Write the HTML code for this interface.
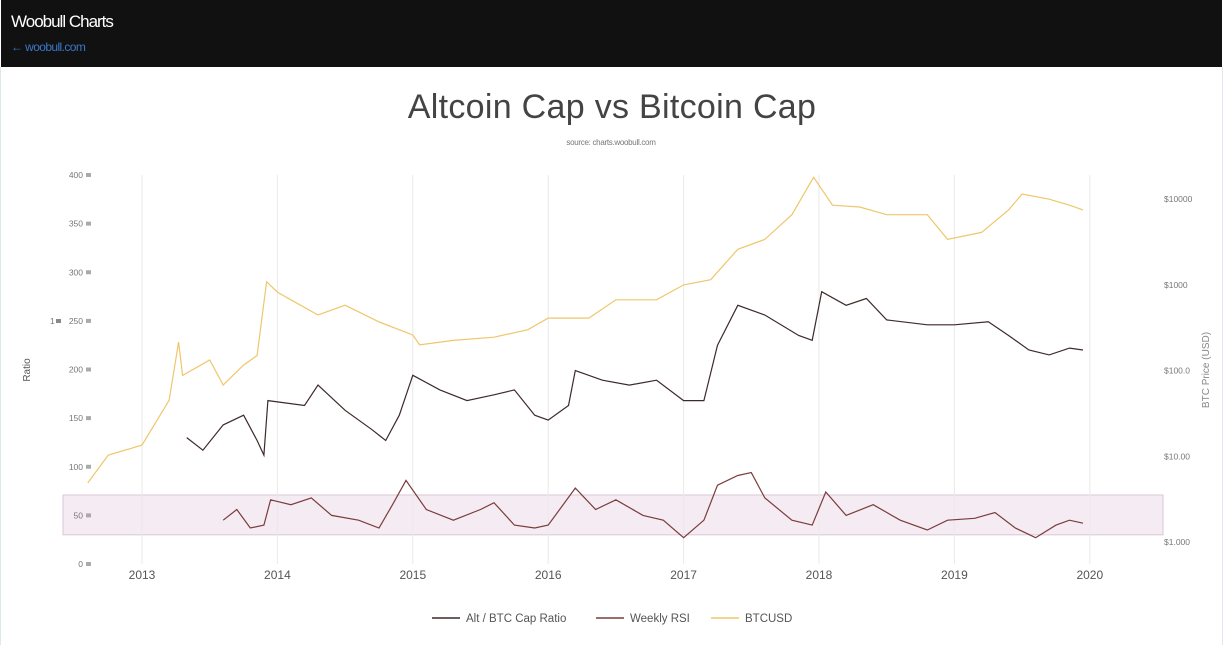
<!DOCTYPE html>
<html><head><meta charset="utf-8">
<style>
body{margin:0;width:1223px;height:645px;background:#fff;font-family:"Liberation Sans",sans-serif;overflow:hidden;position:relative}
#hdr{position:absolute;left:1px;top:0;width:1221px;height:67px;background:#111}
#hdr .t{position:absolute;left:10px;top:12px;color:#fff;font-size:17px;letter-spacing:-1px}
#hdr a{position:absolute;left:10px;top:40px;color:#3a78c8;font-size:12px;letter-spacing:-0.6px;text-decoration:none}
#frame{position:absolute;left:0;top:67px;width:1221px;height:578px;border-left:1px solid #dfe8ee;border-right:1px solid #dfe8ee}
svg{position:absolute;left:0;top:0}
</style></head><body>
<div id="hdr">
<div class="t">Woobull Charts</div>
<a>← woobull.com</a>
</div>
<div id="frame"></div>
<svg id="chart" width="1223" height="645"></svg>
<script>
const years=[2013,2014,2015,2016,2017,2018,2019,2020];
const leftTicks=[0,50,100,150,200,250,300,350,400];
const rightTicks=[1,10,100,1000,10000];
const rightLabels=["$1.000","$10.00","$100.0","$1000","$10000"];
const btcDates=[2012.6,2012.75,2013.0,2013.2,2013.27,2013.3,2013.5,2013.6,2013.75,2013.85,2013.92,2014.0,2014.1,2014.3,2014.5,2014.75,2015.0,2015.05,2015.3,2015.6,2015.85,2016.0,2016.3,2016.5,2016.8,2017.0,2017.2,2017.4,2017.6,2017.8,2017.96,2018.1,2018.3,2018.5,2018.8,2018.95,2019.2,2019.4,2019.5,2019.7,2019.85,2019.95];
const btcPrice=[4.9,10.3,13.5,45,215,88,133,68,116,150,1090,825,670,445,580,370,260,200,225,245,300,410,410,670,670,1000,1150,2600,3400,6600,18000,8500,8100,6600,6600,3400,4100,7500,11500,10000,8500,7500];
const ratioDates=[2013.33,2013.45,2013.6,2013.75,2013.85,2013.9,2013.93,2014.2,2014.3,2014.5,2014.7,2014.8,2014.9,2015.0,2015.2,2015.4,2015.6,2015.75,2015.9,2016.0,2016.15,2016.2,2016.4,2016.6,2016.8,2017.0,2017.15,2017.25,2017.4,2017.6,2017.85,2017.95,2018.02,2018.2,2018.35,2018.5,2018.8,2019.0,2019.25,2019.4,2019.55,2019.7,2019.85,2019.95];
const ratioVals=[130,117,143,153,127,112,168,163,184,158,138,127,153,194,179,168,174,179,153,148,163,199,189,184,189,168,168,225,266,256,235,230,280,266,273,251,246,246,249,235,220,215,222,220];
const rsiDates=[2013.6,2013.7,2013.8,2013.9,2013.95,2014.1,2014.25,2014.4,2014.6,2014.75,2014.85,2014.95,2015.1,2015.3,2015.5,2015.6,2015.75,2015.9,2016.0,2016.2,2016.35,2016.5,2016.7,2016.85,2017.0,2017.15,2017.25,2017.4,2017.5,2017.6,2017.8,2017.95,2018.05,2018.2,2018.4,2018.6,2018.8,2018.95,2019.15,2019.3,2019.45,2019.6,2019.75,2019.85,2019.95];
const rsiVals=[45,56,37,40,66,61,68,50,45,37,61,86,56,45,56,63,40,37,40,78,56,66,50,45,27,45,81,91,94,68,45,40,74,50,61,45,35,45,47,53,37,27,40,45,42];

const NS="http://www.w3.org/2000/svg";
const svg=document.getElementById('chart');
const X=d=>142+(d-2013)*135.4;
const YL=v=>564-v*0.9725;
const YR=p=>542-Math.log10(p)*85.7;
function mk(tag,attrs,txt){const e=document.createElementNS(NS,tag);for(const k in attrs)e.setAttribute(k,attrs[k]);if(txt!==undefined)e.textContent=txt;svg.appendChild(e);return e;}

let e;
e=mk('text',{x:612,y:118,'text-anchor':'middle','font-size':34,fill:'#444','letter-spacing':'0.3'},'Altcoin Cap vs Bitcoin Cap');


e=mk('text',{x:611,y:145,'text-anchor':'middle','font-size':8,fill:'#777','letter-spacing':'-0.3'},'source: charts.woobull.com');



e=mk('rect',{x:63,y:YL(71),width:1100,height:YL(30)-YL(71),fill:'#f5ebf3',stroke:'#dcc6d7','stroke-width':1});



years.forEach(y=>{
 e=mk('line',{x1:X(y),x2:X(y),y1:175,y2:564,stroke:'#eaeaea','stroke-width':1});
 
 
 e=mk('text',{x:X(y),y:579,'text-anchor':'middle','font-size':12,fill:'#555'},String(y));
 
 
});
leftTicks.forEach(v=>{
 e=mk('text',{x:83,y:YL(v)+3,'text-anchor':'end','font-size':8.5,fill:'#777'},String(v));
 
 
 e=mk('rect',{x:86,y:YL(v)-2,width:5,height:4,fill:'#aaa'});
 
 
});
e=mk('text',{x:50,y:324,'font-size':8.5,fill:'#777'},'1');


e=mk('rect',{x:56,y:319,width:5,height:4,fill:'#888'});


rightTicks.forEach((p,i)=>{
 e=mk('text',{x:1164,y:YR(p)+3,'font-size':8.5,fill:'#777'},rightLabels[i]);
 
 
});
e=mk('text',{x:0,y:0,'font-size':10,fill:'#555',transform:'translate(30,370) rotate(-90)','text-anchor':'middle'},'Ratio');


e=mk('text',{x:0,y:0,'font-size':10,fill:'#888',transform:'translate(1209,370) rotate(-90)','text-anchor':'middle'},'BTC Price (USD)');



function path(ds,vs,yf,color,name){
 const d=ds.map((t,i)=>(i?'L':'M')+X(t).toFixed(1)+' '+yf(vs[i]).toFixed(1)).join(' ');
 const p=mk('path',{d:d,fill:'none',stroke:color,'stroke-width':1.2});
 
 
}
path(btcDates,btcPrice,YR,'#efc66b','btcusd-line');
path(ratioDates,ratioVals,YL,'#3e2a2a','alt-btc-ratio-line');
path(rsiDates,rsiVals,YL,'#7a3c3c','weekly-rsi-line');

const legend=[["Alt / BTC Cap Ratio",'#3e2a2a',432],["Weekly RSI",'#7a3c3c',596],["BTCUSD",'#efc66b',711]];
legend.forEach(l=>{
 const g=mk('line',{x1:l[2],x2:l[2]+28,y1:618,y2:618,stroke:l[1],'stroke-width':1.5});
 
 
 const t=mk('text',{x:l[2]+34,y:622,'font-size':11.5,fill:'#555'},l[0]);
 
 
});
</script>
</body></html>
